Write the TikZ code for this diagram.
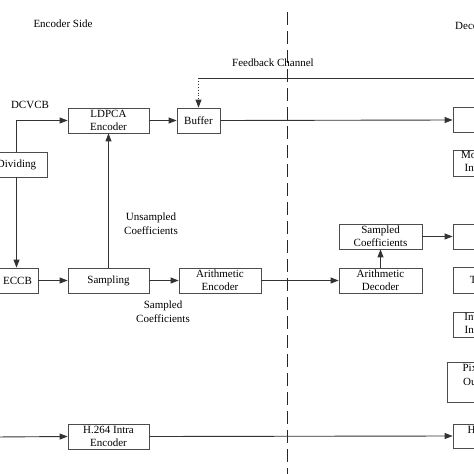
\documentclass[tikz,border=0pt]{standalone}
\usepackage{fontspec}
\setmainfont{Liberation Serif}
\usetikzlibrary{arrows.meta}
\begin{document}
\begin{tikzpicture}[x=1pt,y=-1pt,
  blk/.style={draw=black!70,line width=0.8pt,minimum height=25pt,inner sep=1pt,align=center,font=\fontsize{11}{13}\selectfont},
  lbl/.style={align=center,font=\fontsize{11}{14}\selectfont,inner sep=0pt},
  conn/.style={draw=black!80,line width=0.9pt,-{Triangle[length=8pt,width=6pt]}},
  plain/.style={draw=black!80,line width=0.9pt},
  dotconn/.style={draw=black!80,line width=0.9pt,dotted,-{Triangle[length=8pt,width=6pt]}},
  divider/.style={draw=black!85,line width=1pt,dash pattern=on 13pt off 6pt}]
\useasboundingbox (0,0) rectangle (474,474);
\clip (0,0) rectangle (474,474);
\fill[white] (0,0) rectangle (474,474);
% side labels
\node[lbl] (encside) at (63,24) {Encoder Side};
\node[lbl,anchor=west] (decside) at (455,26) {Decoder Side};
\coordinate (dtop) at (287,12);
\coordinate (dbot) at (287,474);
\draw[divider] (dtop) -- (dbot);
% encoder blocks
\node[blk,minimum width=81pt] (ldpca) at (108.5,120.5) {LDPCA\\Encoder};
\node[blk,minimum width=43pt] (buffer) at (198.5,120.5) {Buffer};
\node[blk,minimum width=61pt] (divid) at (16.5,164.5) {Dividing};
\node[blk,minimum width=41pt] (eccb) at (17.5,280.5) {ECCB};
\node[blk,minimum width=81pt] (sampling) at (108.5,280.5) {Sampling};
\node[blk,minimum width=82pt] (arienc) at (220,280.5) {Arithmetic\\Encoder};
\node[blk,minimum width=81pt] (h264enc) at (108.5,436.5) {H.264 Intra\\Encoder};
% decoder blocks
\node[blk,minimum width=83pt] (aridec) at (380.5,280.5) {Arithmetic\\Decoder};
\node[blk,minimum width=83pt] (sampc) at (380.5,236.5) {Sampled\\Coefficients};
\node[blk,minimum width=84pt] (r1) at (495,120) {LDPCA\\Decoder};
\node[blk,minimum width=80pt,minimum height=26pt] (r2) at (493,163) {Motion Vector\\Interpolation};
\node[blk,minimum width=80pt] (r3) at (493,236.5) {Fusion};
\node[blk,minimum width=80pt,minimum height=26pt] (r4) at (493,280) {Transform};
\node[blk,minimum width=80pt,minimum height=24pt] (r5) at (493,325) {Inverse DCT\\Interpolation};
\node[blk,minimum width=92pt,minimum height=40pt,font=\fontsize{11}{14}\selectfont] (r6) at (493,382) {Pixel Domain\\Output Video\\Frames};
\node[blk,minimum width=80pt,minimum height=24pt] (r7) at (493,436) {H.264 Intra\\Decoder};
% labels
\node[lbl] (dcvcb) at (30,105) {DCVCB};
\node[lbl] (unsl) at (151,224) {Unsampled\\Coefficients};
\node[lbl] (sampl) at (163,312) {Sampled\\Coefficients};
\node[lbl] (fbl) at (273,63) {Feedback Channel};
% connectors
\draw[conn] (divid.north) |- (ldpca.west);
\draw[conn] (divid.south) -- (divid.south |- eccb.north);
\draw[conn] (ldpca.east) -- (buffer.west);
\draw[conn] (buffer.east) -- (r1.west);
\draw[conn] (sampling.north) -- (ldpca.south);
\draw[conn] (eccb.east) -- (sampling.west);
\draw[conn] (sampling.east) -- (arienc.west);
\draw[conn] (arienc.east) -- (aridec.west);
\draw[conn] (aridec.north) -- (sampc.south);
\draw[conn] (sampc.east) -- (r3.west);
\coordinate (fbr) at (480,78);
\coordinate (fbc) at (198.5,78);
\draw[plain] (fbr) -- (fbc);
\draw[dotconn] (fbc) -- (buffer.north);
\coordinate (inl) at (-5,437);
\draw[conn] (inl) -- (h264enc.west);
\draw[conn] (h264enc.east) -- (r7.west);
\end{tikzpicture}
\end{document}
